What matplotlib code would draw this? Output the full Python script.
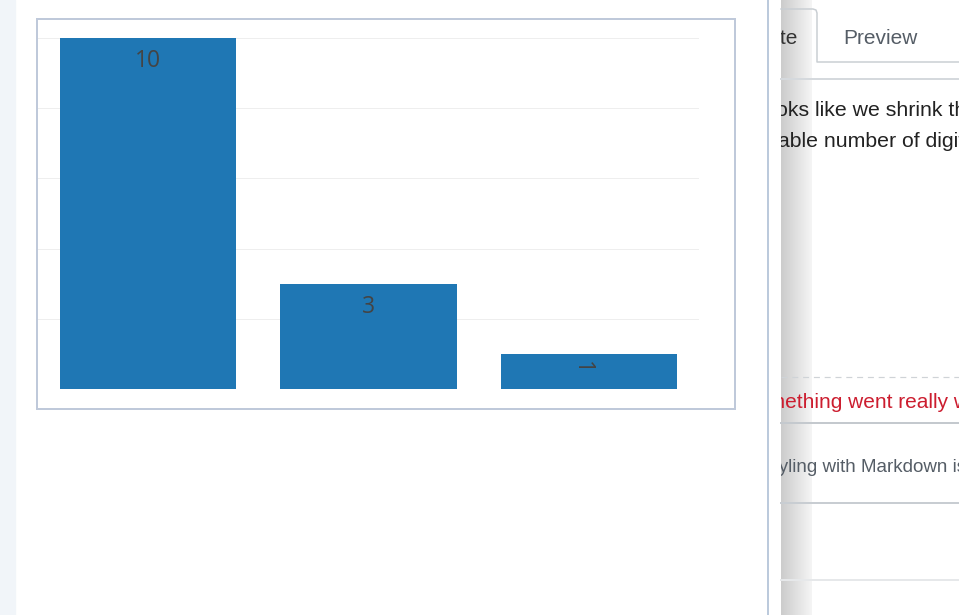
import numpy as np
import matplotlib
matplotlib.use('Agg')
import matplotlib.pyplot as plt
from matplotlib.lines import Line2D
from matplotlib.patches import Rectangle
from matplotlib.transforms import Bbox

# Chart data
values = [10, 3, 1]
labels = ['10', '3', '1']
gridvals = [2, 4, 6, 8, 10]

# Page text around the chart (clipped screenshot)
tab_texts = ['Write', 'Preview']
body_lines = ['It looks like we shrink the text to a', 'reasonable number of digits']
error_text = 'Something went really wrong'
hint_text = 'Styling with Markdown is supported'

W, H = 959, 615
PX = 0.72   # points per pixel at dpi 100


def fx(x):
    return x / W


def fy(y):
    return 1 - y / H


fig = plt.figure(figsize=(W / 100, H / 100), dpi=100)
fig.patch.set_facecolor('white')
renderer = fig.canvas.get_renderer()

# Left page strip
fig.add_artist(Rectangle((0, 0), fx(15), 1, transform=fig.transFigure,
                         color='#f1f5f9', zorder=0))

# Chart box border
fig.add_artist(Rectangle((fx(37), fy(409)), fx(735) - fx(37), fy(19) - fy(409),
                         transform=fig.transFigure, fill=False,
                         edgecolor='#bfc9da', lw=2 * PX, zorder=5))

# Plot area
ax = fig.add_axes([fx(38), fy(389), fx(699) - fx(38), fy(19.4) - fy(389)])
x = np.arange(len(values))
ax.bar(x, values, width=0.8, color='#1f77b4', zorder=2)
ax.set_xlim(-0.5, len(values) - 0.5)
ax.set_ylim(0, 10.526)
ax.set_yticks(gridvals)
ax.set_xticks([])
ax.grid(axis='y', color='#eeeeee', lw=1 * PX, zorder=0)
ax.tick_params(left=False, labelleft=False)
for s in ax.spines.values():
    s.set_visible(False)
ax.axhline(0, color='#444444', lw=1 * PX, zorder=3)

for i, (v, lab) in enumerate(zip(values, labels)):
    # plotly turns the label sideways when it does not fit
    if v < 2:
        rot, dx, dy = -90, -7, -14
    else:
        rot, dx, dy = 0, 0, -23
    ax.annotate(lab, xy=(i, v), xytext=(dx * PX, dy * PX), textcoords='offset points',
                ha='center', va='center', rotation=rot, fontsize=16.5,
                family='Open Sans', color='#444444', zorder=4)

# Right hand panel
grad = np.linspace(0.80, 0.96, 31)
img = np.ones((H, 31, 3)) * grad[None, :, None]
fig.figimage(img, xo=781, yo=0, zorder=0)

fig.add_artist(Line2D([fx(767.5), fx(767.5)], [0, 1], transform=fig.transFigure,
                      color='#bccadc', lw=2 * PX))

clip = Bbox.from_extents(781, 0, W, H)


def text_width(s, size):
    t = fig.text(0, 0, s, fontsize=size, family='Liberation Sans')
    w = t.get_window_extent(renderer).width
    t.remove()
    return w


def page_text(xp, yp, s, size, color, prefix=''):
    # xp is where the text after `prefix` should begin
    x0 = xp - text_width(prefix, size) if prefix else xp
    t = fig.text(fx(x0), fy(yp), s, fontsize=size, color=color,
                 va='baseline', family='Liberation Sans')
    t.set_clip_box(clip)
    t.set_clip_on(True)
    return t


def page_line(x0, x1, y, color, lw, ls='-'):
    fig.add_artist(Line2D([fx(x0), fx(x1)], [fy(y), fy(y)],
                          transform=fig.transFigure, color=color,
                          lw=lw * PX, ls=ls))


# tabs
tab = Line2D([fx(781), fx(813), fx(816), fx(817), fx(817), fx(W)],
             [fy(9), fy(9), fy(10), fy(13), fy(62), fy(62)],
             transform=fig.transFigure, color='#c9ced3', lw=1.5 * PX)
fig.add_artist(tab)
page_text(781, 44, tab_texts[0], 15, '#333333', prefix='Wri')
page_text(843, 44, tab_texts[1], 15, '#555d66')
page_line(781, W, 79, '#d5d9dd', 2)

page_text(776, 116, body_lines[0], 15.3, '#222222', prefix='It lo')
page_text(778, 147, body_lines[1], 15.3, '#222222', prefix='reason')

page_line(781, W, 377, '#cfd3d7', 1.2, ls=(0, (5, 4)))
page_text(768, 408, error_text, 15, '#cc1d2f', prefix='So')
page_line(781, W, 423, '#c4c9ce', 2)
page_text(779, 472, hint_text, 13.5, '#555d66', prefix='St')
page_line(781, W, 503, '#c8cdd2', 2)
page_line(781, W, 580, '#e6e8ea', 2)

fig.savefig('out.png', dpi=100)
